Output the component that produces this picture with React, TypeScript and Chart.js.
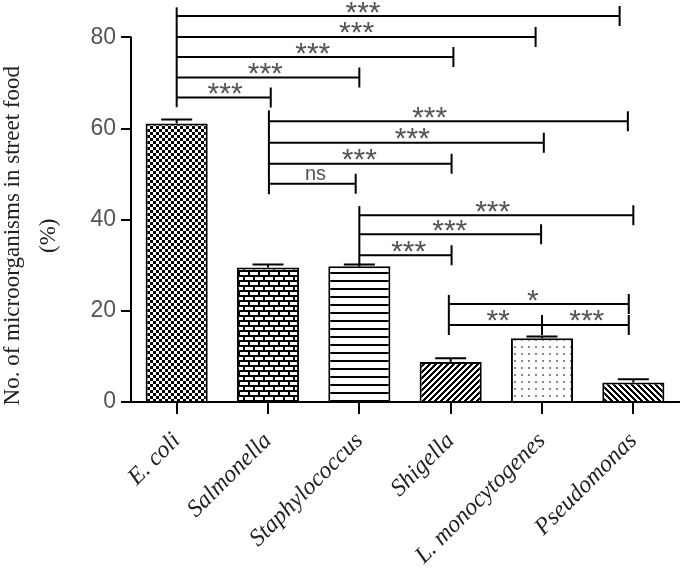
import React, { useEffect, useRef } from 'react';
import { Chart, registerables } from 'chart.js';

Chart.register(...registerables);

const categories = ['E. coli', 'Salmonella', 'Staphylococcus', 'Shigella', 'L. monocytogenes', 'Pseudomonas'];
const values = [61.1, 29.5, 29.8, 8.8, 14.0, 4.3];
const errors = [0.9, 0.7, 0.4, 0.8, 0.4, 0.7];
const yMin = 0;
const yMax = 88;
const yAxisTop = 80;
const yStep = 20;
const yTitle = ['No. of microorganisms in street food', '(%)'];
const patterns = ['checker', 'brick', 'hlines', 'diagUp', 'dots', 'diagDown'];

// significance brackets: [fromCategory, toCategory, yValue, label, labelAtCategory]
const bracketsEcoli: [number, number, number, string, number][] = [
  [0, 4.85, 84.7, '***', 2.04],
  [0, 3.93, 80.1, '***', 1.97],
  [0, 3.03, 75.7, '***', 1.49],
  [0, 2.0, 71.2, '***', 0.97],
  [0, 1.03, 66.8, '***', 0.53],
];
const bracketsSalmonella: [number, number, number, string, number][] = [
  [1.01, 4.94, 61.6, '***', 2.77],
  [1.01, 4.02, 56.9, '***', 2.58],
  [1.01, 3.01, 52.3, '***', 2.0],
  [1.01, 1.96, 47.9, 'ns', 1.52],
];
const bracketsStaph: [number, number, number, string, number][] = [
  [2.0, 5.0, 41.0, '***', 3.46],
  [2.0, 3.99, 36.8, '***', 2.99],
  [2.0, 3.01, 32.2, '***', 2.54],
];
const bracketsShigella: [number, number, number, string, number][] = [
  [2.98, 4.95, 21.5, '*', 3.9],
  [2.98, 4.0, 16.9, '**', 3.52],
  [4.0, 4.95, 16.9, '***', 4.49],
];
// group stems: [category, yTop, yBottom]
const stems: [number, number, number][] = [
  [0, 86.6, 64.7],
  [1.01, 64.0, 45.6],
  [2.0, 43.0, 29.8],
  [2.98, 23.5, 14.7],
];

function makePattern(kind: string): CanvasPattern | string {
  const c = document.createElement('canvas');
  const g = c.getContext('2d');
  if (!g) return '#fff';
  const px = (x: number, y: number, w = 1, h = 1) => g.fillRect(x, y, w, h);
  if (kind === 'checker') {
    c.width = 6; c.height = 6;
    g.fillStyle = '#fff'; px(0, 0, 6, 6);
    g.fillStyle = '#000'; px(0, 0, 3, 3); px(3, 3, 3, 3);
  } else if (kind === 'brick') {
    c.width = 10; c.height = 10;
    g.fillStyle = '#000'; px(0, 0, 10, 10);
    g.fillStyle = '#fff'; px(0, 2, 8, 3); px(5, 7, 5, 3); px(0, 7, 3, 3);
  } else if (kind === 'hlines') {
    c.width = 8; c.height = 8;
    g.fillStyle = '#fff'; px(0, 0, 8, 8);
    g.fillStyle = '#000'; px(0, 0, 8, 2);
  } else if (kind === 'diagUp' || kind === 'diagDown') {
    c.width = 6; c.height = 6;
    g.fillStyle = '#fff'; px(0, 0, 6, 6);
    g.fillStyle = '#000';
    for (let y = 0; y < 6; y++) for (let x = 0; x < 6; x++) {
      const k = kind === 'diagUp' ? (x + y) % 6 : (x - y + 6) % 6;
      if (k < 3) px(x, y);
    }
  } else if (kind === 'dots') {
    c.width = 7; c.height = 7;
    g.fillStyle = '#fff'; px(0, 0, 7, 7);
    g.fillStyle = '#888'; px(3, 3, 2, 2);
  }
  return g.createPattern(c, 'repeat') || '#fff';
}

const errorBarPlugin = {
  id: 'errorBars',
  afterDatasetsDraw(chart: any) {
    const { ctx, scales: { y } } = chart;
    const meta = chart.getDatasetMeta(0);
    ctx.save();
    ctx.strokeStyle = '#000';
    ctx.lineWidth = 2;
    meta.data.forEach((bar: any, i: number) => {
      const yTop = y.getPixelForValue(values[i] + errors[i]);
      const yBase = y.getPixelForValue(values[i]);
      const half = bar.width / 4;
      ctx.beginPath();
      ctx.moveTo(bar.x, yBase);
      ctx.lineTo(bar.x, yTop);
      ctx.moveTo(bar.x - half, yTop);
      ctx.lineTo(bar.x + half, yTop);
      ctx.stroke();
    });
    ctx.restore();
  },
};

const bracketPlugin = {
  id: 'brackets',
  afterDraw(chart: any) {
    const { ctx, scales: { x, y } } = chart;
    const x0 = x.getPixelForValue(0);
    const step = x.getPixelForValue(1) - x0;
    const cx = (i: number) => x0 + i * step;
    ctx.save();
    ctx.strokeStyle = '#000';
    ctx.lineWidth = 2;
    stems.forEach(([i, a, b]) => {
      ctx.beginPath();
      ctx.moveTo(cx(i), y.getPixelForValue(a));
      ctx.lineTo(cx(i), y.getPixelForValue(b));
      ctx.stroke();
    });
    const all = [...bracketsEcoli, ...bracketsSalmonella, ...bracketsStaph, ...bracketsShigella];
    all.forEach(([from, to, v, label, at]) => {
      const py = y.getPixelForValue(v);
      ctx.beginPath();
      ctx.moveTo(cx(from), py);
      ctx.lineTo(cx(to), py);
      ctx.moveTo(cx(to), py - 10);
      ctx.lineTo(cx(to), py + 10);
      ctx.stroke();
      const isStar = label.indexOf('*') >= 0;
      ctx.font = isStar ? '30px "Liberation Sans", Arial, sans-serif' : '20px "Liberation Sans", Arial, sans-serif';
      ctx.fillStyle = '#555';
      ctx.textAlign = 'center';
      ctx.textBaseline = 'alphabetic';
      const m = ctx.measureText(label);
      const center = py - 9;
      const base = center + (m.actualBoundingBoxAscent - m.actualBoundingBoxDescent) / 2;
      ctx.fillText(label, cx(at), base);
    });
    ctx.restore();
  },
};

const axisPlugin = {
  id: 'yAxisLine',
  afterDraw(chart: any) {
    const { ctx, chartArea, scales: { y } } = chart;
    ctx.save();
    ctx.strokeStyle = '#000';
    ctx.lineWidth = 2;
    ctx.beginPath();
    ctx.moveTo(chartArea.left, y.getPixelForValue(yMin) + 1);
    ctx.lineTo(chartArea.left, y.getPixelForValue(yAxisTop) - 1);
    ctx.stroke();
    // y title
    const cy = (y.getPixelForValue(yMin) + y.getPixelForValue(yAxisTop)) / 2 + 16;
    ctx.fillStyle = '#222';
    ctx.font = '23px "Liberation Serif", "Times New Roman", serif';
    ctx.textAlign = 'center';
    ctx.textBaseline = 'alphabetic';
    const baselines = [chartArea.left - 112, chartArea.left - 76];
    yTitle.forEach((t, k) => {
      ctx.save();
      ctx.translate(baselines[k], cy);
      ctx.rotate(-Math.PI / 2);
      ctx.fillText(t, 0, 0);
      ctx.restore();
    });
    ctx.restore();
  },
};

export default function App() {
  const ref = useRef<HTMLCanvasElement | null>(null);
  useEffect(() => {
    if (!ref.current) return;
    const chart = new Chart(ref.current, {
      type: 'bar',
      data: {
        labels: categories,
        datasets: [
          {
            data: values,
            backgroundColor: patterns.map(makePattern) as any,
            borderColor: '#000',
            borderWidth: 2,
            barPercentage: 1,
            categoryPercentage: 0.68,
          },
        ],
      },
      options: {
        animation: false,
        responsive: true,
        maintainAspectRatio: false,
        layout: { padding: { left: 90, right: 6, top: 1, bottom: 0 } },
        plugins: { legend: { display: false }, tooltip: { enabled: false }, title: { display: false } },
        scales: {
          x: {
            grid: { display: true, drawOnChartArea: false, drawTicks: true, tickLength: 12, offset: false, color: '#000', lineWidth: 2 },
            border: { display: true, color: '#000', width: 2 },
            ticks: {
              minRotation: 45,
              maxRotation: 45,
              color: '#222',
              padding: 13,
              font: { family: '"Liberation Serif", "Times New Roman", serif', size: 24, style: 'italic' },
            },
            afterFit: (s: any) => { s.height = 176; s.paddingLeft = 0; s.paddingRight = 0; },
          },
          y: {
            min: yMin,
            max: yMax,
            grid: { display: true, drawOnChartArea: false, drawTicks: true, tickLength: 10, color: '#000', lineWidth: 2 },
            border: { display: false },
            ticks: {
              stepSize: yStep,
              includeBounds: false,
              color: '#555',
              padding: 5,
              font: { family: '"Liberation Sans", Arial, sans-serif', size: 23 },
            },
            afterFit: (s: any) => { s.width = 41; s.paddingTop = 0; s.paddingBottom = 0; },
          },
        },
      },
      plugins: [errorBarPlugin, bracketPlugin, axisPlugin],
    });
    return () => chart.destroy();
  }, []);
  return (
    <div style={{ position: 'fixed', left: 0, top: 0, width: 685, height: 578, background: '#fff' }}>
      <canvas ref={ref} />
    </div>
  );
}
